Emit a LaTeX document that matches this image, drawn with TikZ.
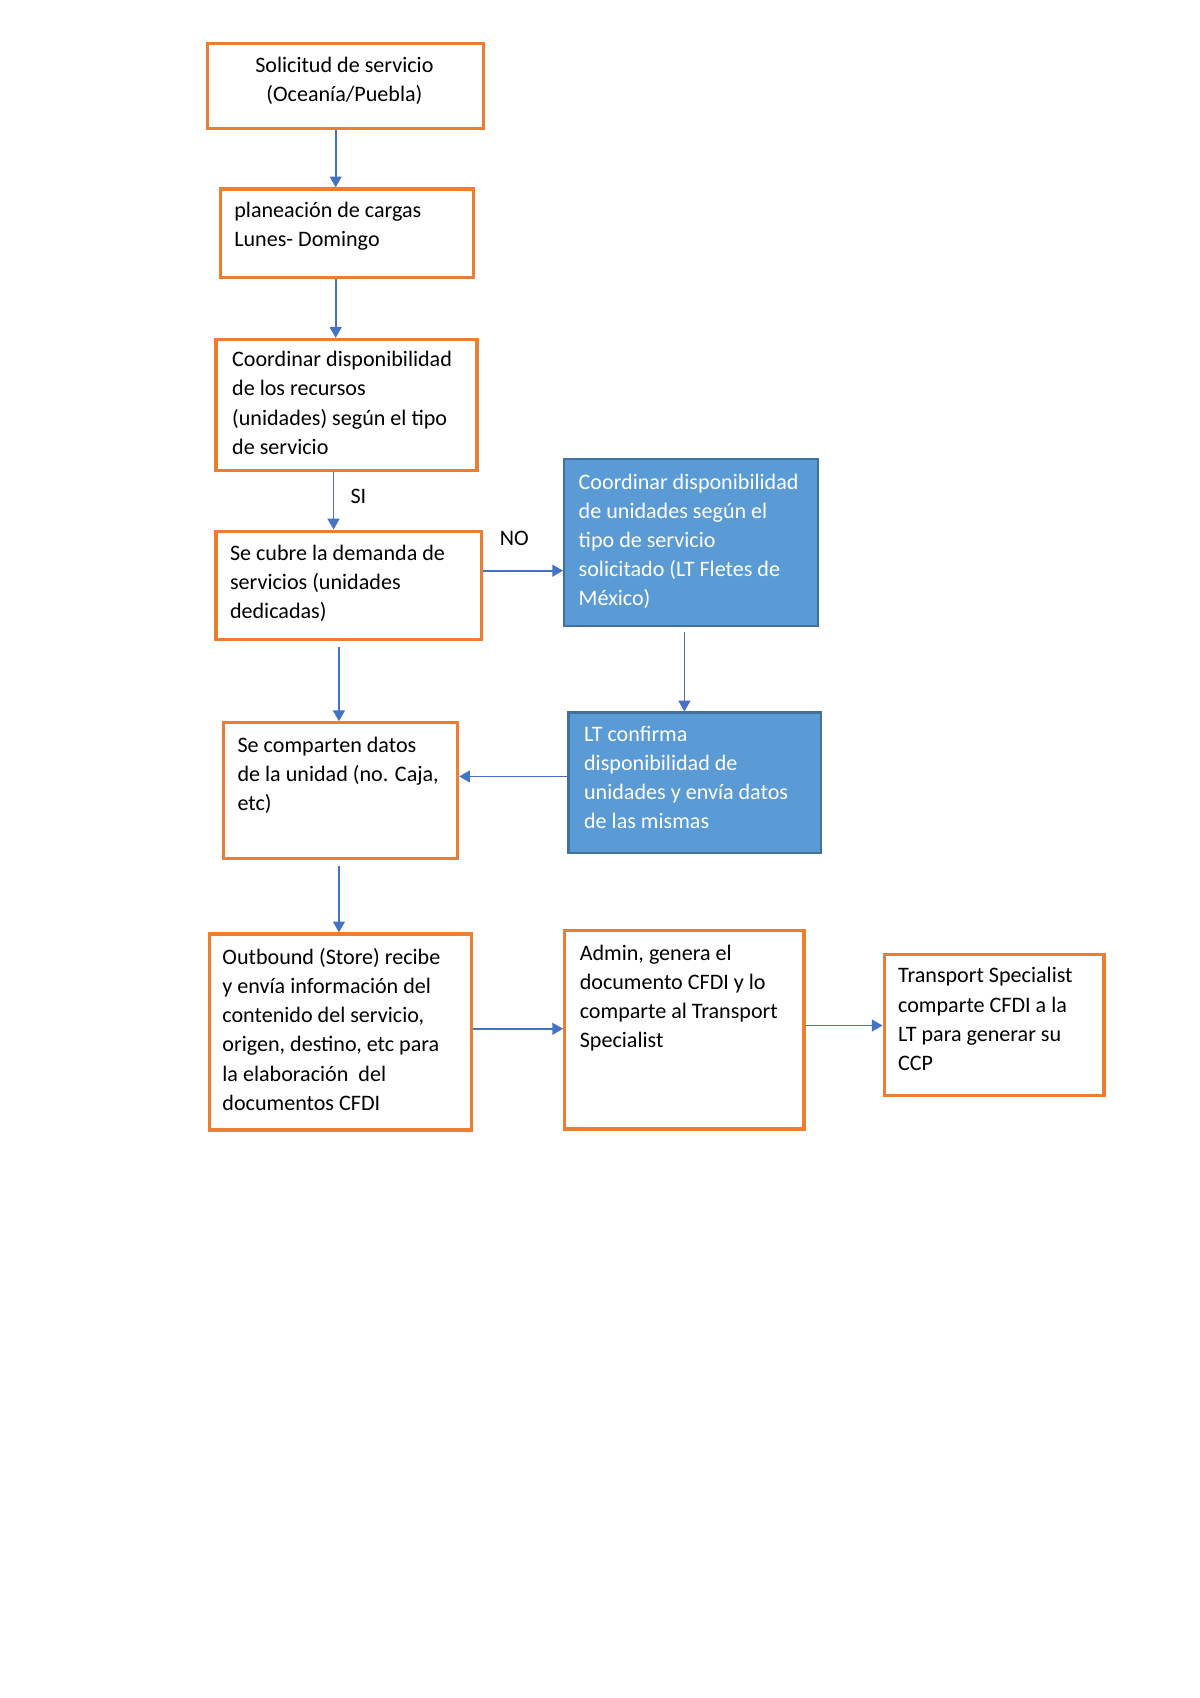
\documentclass[tikz,border=0pt]{standalone}
\usepackage{fontspec}
\setmainfont{Carlito}
\usetikzlibrary{arrows.meta}
\definecolor{borange}{HTML}{ED7D31}
\definecolor{bfill}{HTML}{5B9BD5}
\definecolor{bline}{HTML}{41719C}
\definecolor{arrc}{HTML}{4472C4}
\begin{document}
\begin{tikzpicture}[x=0.5pt,y=-0.5pt,
  obox/.style={draw=borange,line width=1.5pt,fill=white,rectangle,inner sep=0pt,anchor=north west},
  bbox/.style={draw=bline,line width=1pt,fill=bfill,rectangle,inner sep=0pt,anchor=north west},
  txt/.style={inner sep=0pt,anchor=north west,align=left,font=\fontsize{10.2}{13.5}\selectfont},
  wtxt/.style={txt,text=white},
  lbl/.style={inner sep=0pt,font=\fontsize{10.2}{13.5}\selectfont},
  arr/.style={draw=arrc,line width=0.75pt,-{Triangle[length=5pt,width=5.5pt]}}]
\useasboundingbox (0,0) rectangle (1108,1568);
% boxes
\node[obox,minimum width=127.5pt,minimum height=39pt] (n1) at (190,39) {};
\node[txt,anchor=north,align=center] (t1) at (318,52) {Solicitud de servicio\\(Oceanía/Puebla)};
\node[obox,minimum width=117pt,minimum height=41pt] (n2) at (202,173) {};
\node[txt] (t2) at (216,186) {planeación de cargas\\Lunes- Domingo};
\node[obox,minimum width=120.5pt,minimum height=60.5pt] (n3) at (198,312) {};
\node[txt] (t3) at (214,324) {Coordinar disponibilidad\\de los recursos\\(unidades) según el tipo\\de servicio};
\node[obox,minimum width=122.5pt,minimum height=50pt] (n4) at (198,489) {};
\node[txt] (t4) at (212,503) {Se cubre la demanda de\\servicios (unidades\\dedicadas)};
\node[bbox,minimum width=117pt,minimum height=77pt] (b1) at (520,423) {};
\node[wtxt] (tb1) at (534,437) {Coordinar disponibilidad\\de unidades según el\\tipo de servicio\\solicitado (LT Fletes de\\México)};
\node[obox,minimum width=108pt,minimum height=62.5pt] (n5) at (205,666) {};
\node[txt] (t5) at (219,680) {Se comparten datos\\de la unidad (no. Caja,\\etc)};
\node[bbox,minimum width=116.5pt,minimum height=65pt] (b2) at (524,657) {};
\node[wtxt] (tb2) at (539,670) {LT confirma\\disponibilidad de\\unidades y envía datos\\de las mismas};
\node[obox,minimum width=121pt,minimum height=90.5pt] (n6) at (192,861) {};
\node[txt] (t6) at (205,875) {Outbound (Store) recibe\\y envía información del\\contenido del servicio,\\origen, destino, etc para\\la elaboración~ del\\documentos CFDI};
\node[obox,minimum width=110.5pt,minimum height=91.5pt] (n7) at (520,858) {};
\node[txt] (t7) at (535,872) {Admin, genera el\\documento CFDI y lo\\comparte al Transport\\Specialist};
\node[obox,minimum width=101.5pt,minimum height=65pt] (n8) at (815,880) {};
\node[txt] (t8) at (829,893) {Transport Specialist\\comparte CFDI a la\\LT para generar su\\CCP};
% labels
\node[lbl] (si) at (331,458) {SI};
\node[lbl] (no) at (475,497) {NO};
% connectors
\draw[arr] (n1.south -| 310,0) -- (n2.north -| 310,0);
\draw[arr] (n2.south -| 310,0) -- (n3.north -| 310,0);
\draw[arr] (n3.south -| 308,0) -- (n4.north -| 308,0);
\draw[arr] (n4.east |- 0,527) -- (b1.west |- 0,527);
\draw[arr,shorten <=2.5pt] (n4.south -| 313,0) -- (n5.north -| 313,0);
\draw[arr,shorten <=2.5pt] (b1.south -| 632,0) -- (b2.north -| 632,0);
\draw[arr] (b2.west |- 0,717) -- (n5.east |- 0,717);
\draw[arr,shorten <=3pt] (n5.south -| 313,0) -- (n6.north -| 313,0);
\draw[arr] (n6.east |- 0,950) -- (n7.west |- 0,950);
\draw[arr] (n7.east |- 0,947) -- (n8.west |- 0,947);
\end{tikzpicture}
\end{document}
